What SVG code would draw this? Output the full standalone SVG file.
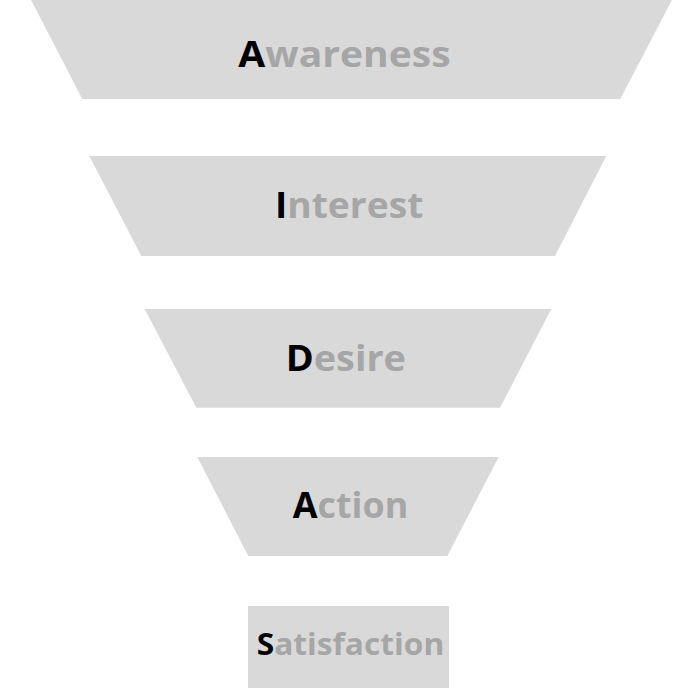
<svg xmlns="http://www.w3.org/2000/svg" width="696" height="696" viewBox="0 0 696 696">
<style>
.stage{fill:#d9d9d9;}
.lbl{font-family:"Open Sans","Liberation Sans",sans-serif;font-weight:700;fill:#a6a6a6;}
.init{fill:#000000;}
</style>
<rect x="0" y="0" width="696" height="696" fill="#ffffff"/>
<g id="awareness">
<polygon class="stage" points="30,-2 673,-2 620.3,99 82.3,99"/>
<text class="lbl" x="238.3" y="66.7" font-size="36" textLength="212.4" lengthAdjust="spacingAndGlyphs"><tspan class="init">A</tspan>wareness</text>
</g>
<g id="interest">
<polygon class="stage" points="89.3,156 606.3,156 555,256 141.3,256"/>
<text class="lbl" x="275" y="218.3" font-size="36" textLength="148.3" lengthAdjust="spacingAndGlyphs"><tspan class="init">I</tspan>nterest</text>
</g>
<g id="desire">
<polygon class="stage" points="144.7,309 551.3,309 500,407.7 196.3,407.7"/>
<text class="lbl" x="285.7" y="371" font-size="36" textLength="120.3" lengthAdjust="spacingAndGlyphs"><tspan class="init">D</tspan>esire</text>
</g>
<g id="action">
<polygon class="stage" points="197.3,457 498.7,457 447.3,556 248.3,556"/>
<text class="lbl" x="292.7" y="518.3" font-size="36" textLength="115.6" lengthAdjust="spacingAndGlyphs"><tspan class="init">A</tspan>ction</text>
</g>
<g id="satisfaction">
<rect class="stage" x="248" y="606" width="201" height="82"/>
<text class="lbl" x="256.7" y="655" font-size="31" textLength="187.6" lengthAdjust="spacingAndGlyphs"><tspan class="init">S</tspan>atisfaction</text>
</g>
<g id="connectors"></g>
</svg>
